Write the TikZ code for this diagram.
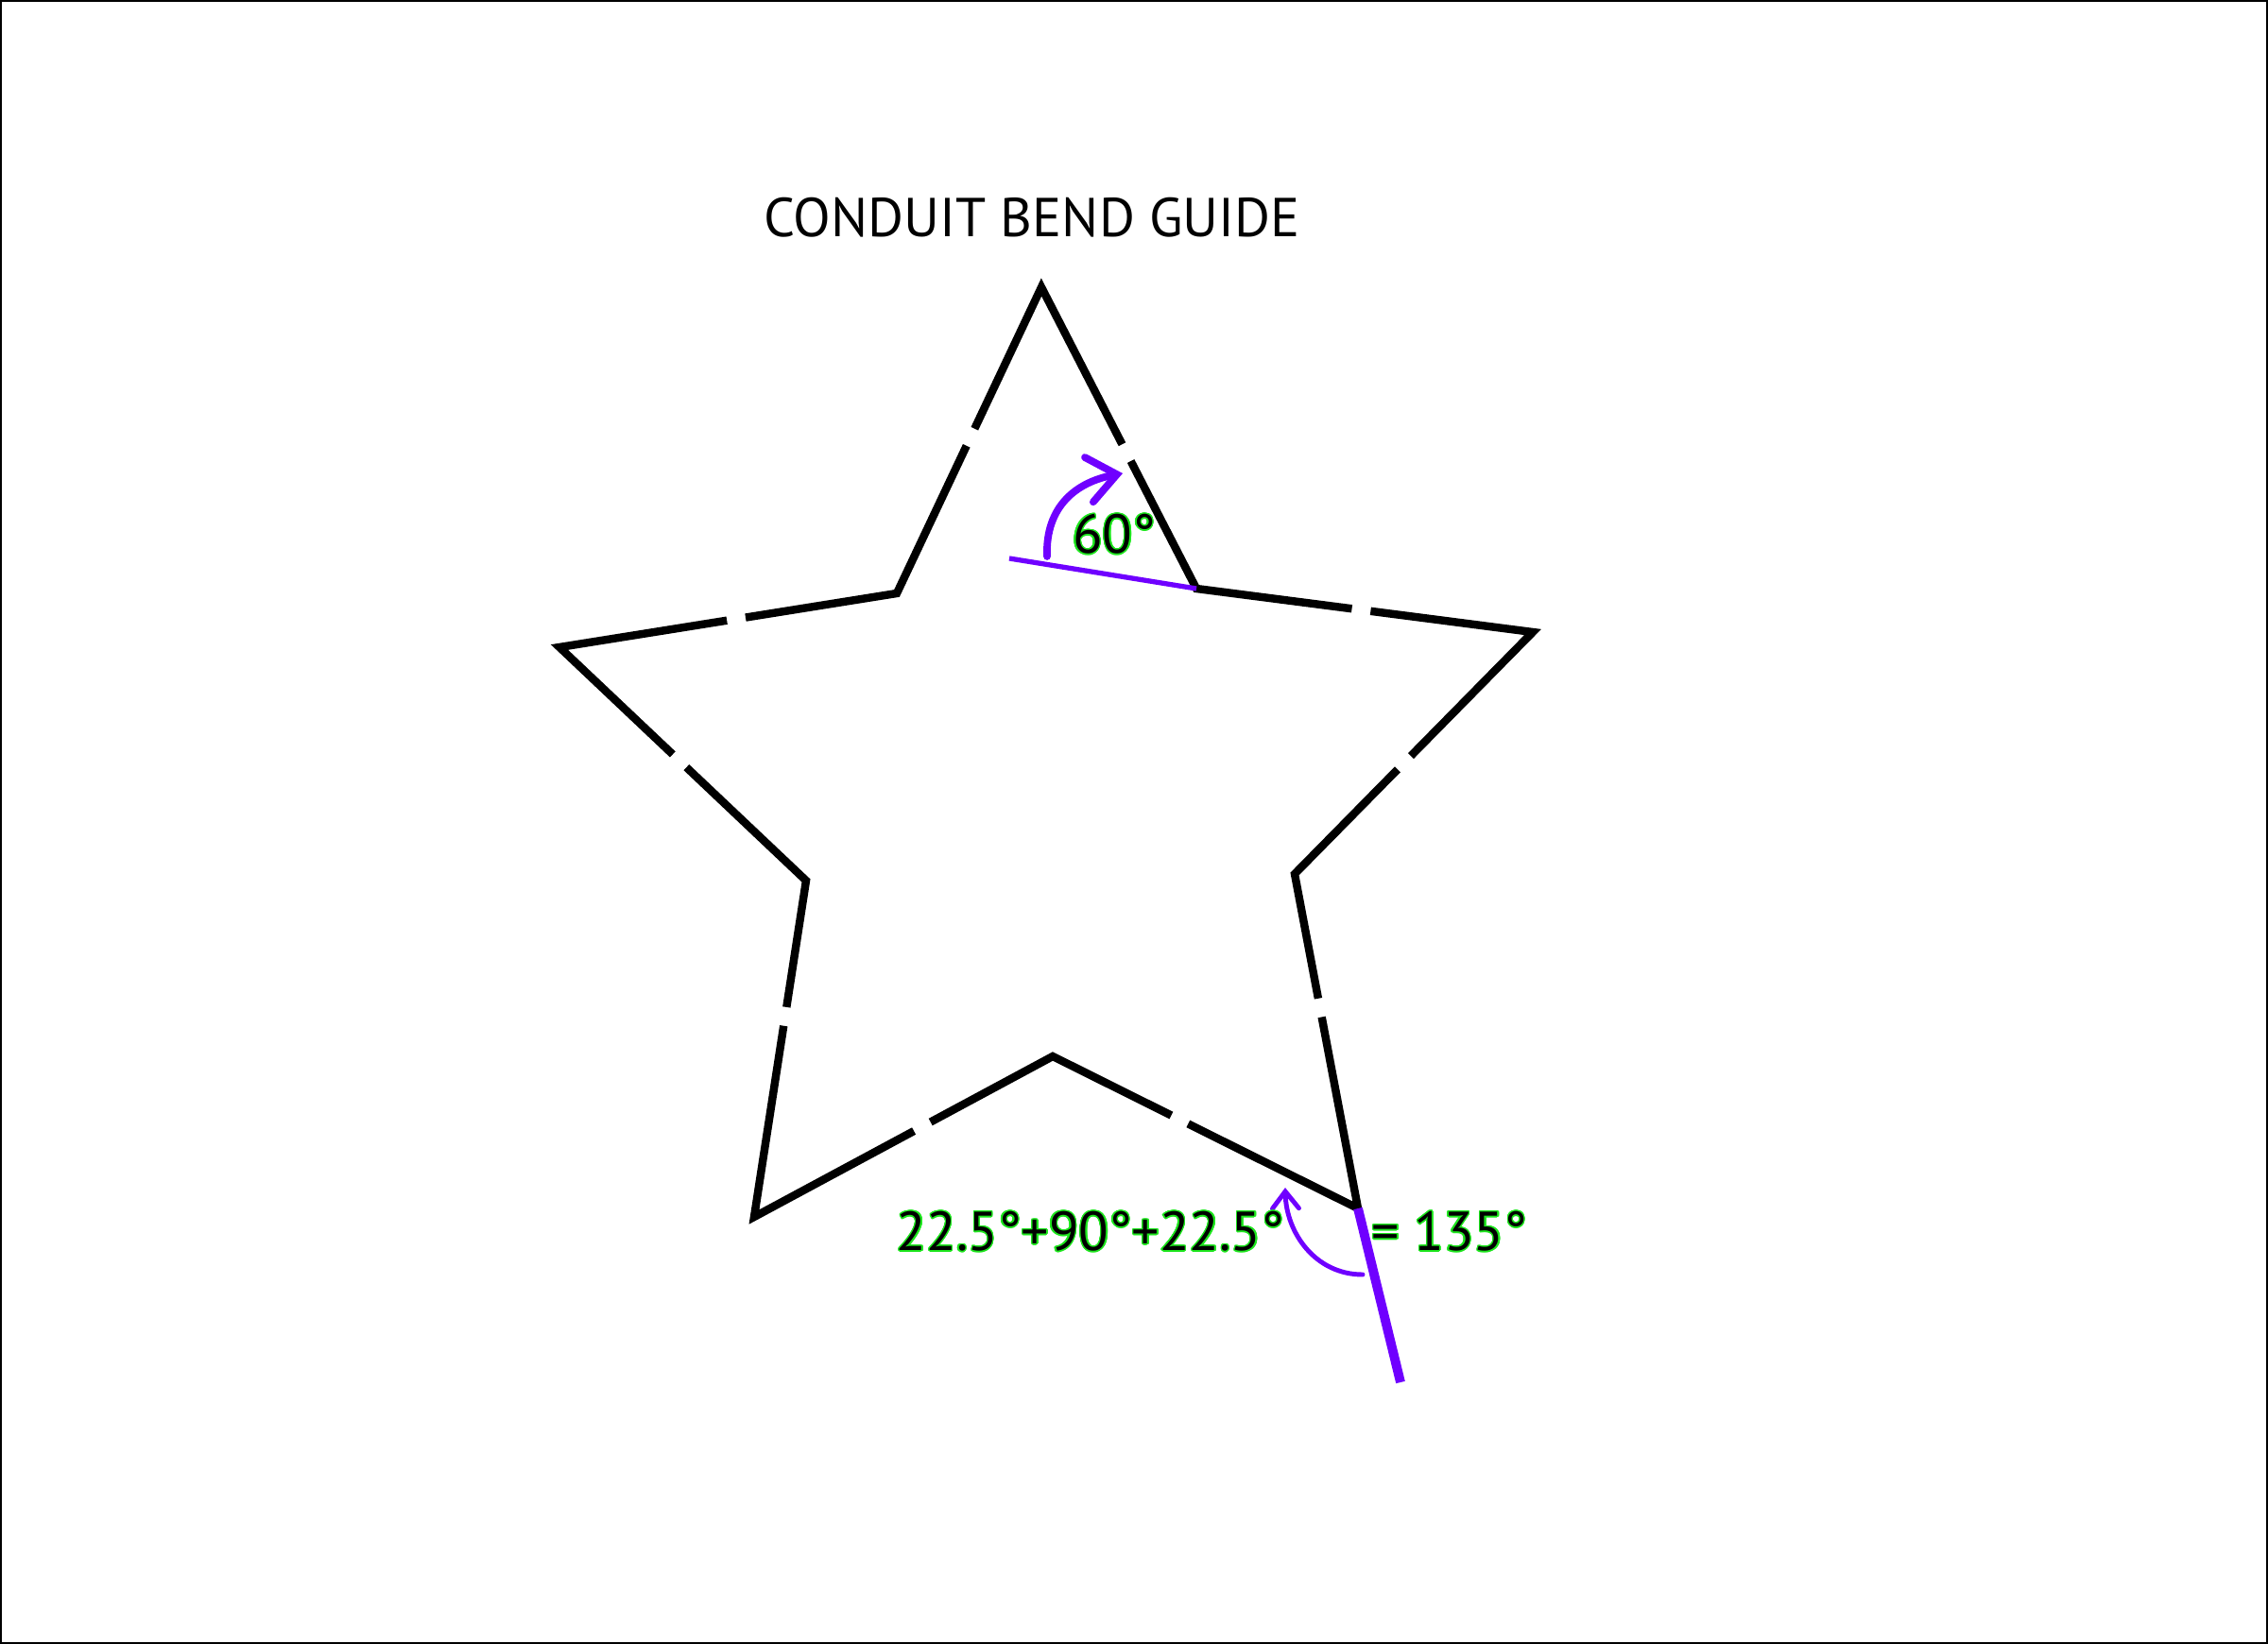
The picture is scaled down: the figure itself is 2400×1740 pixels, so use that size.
\documentclass[tikz,border=0pt]{standalone}
\usepackage{fontspec}
\setmainfont{PT Sans}
\usepackage{contour}
\usetikzlibrary{arrows.meta,calc}
\definecolor{bendviolet}{RGB}{111,0,255}
\definecolor{labelgreen}{RGB}{30,230,30}
\contourlength{0.4pt}
\contournumber{24}
\tikzstyle{starline}=[draw=black, line width=2.4pt, line join=miter]
\tikzstyle{refline}=[draw=bendviolet, line width=1.5pt]
\tikzstyle{bendarc}=[draw=bendviolet, line cap=round]
\tikzstyle{anglelabel}=[inner sep=0pt, font=\fontsize{16.5pt}{19pt}\selectfont]
\newcommand{\glow}[1]{\contour{labelgreen}{#1}}

\begin{document}
\begin{tikzpicture}[x=0.01cm,y=-0.01cm]
  \useasboundingbox (0,0) rectangle (2400,1740);
  \draw[line width=0.6pt] (1,1) rectangle (2399,1739);
  % star points and notches
  \coordinate (pN)  at (1102,304);
  \coordinate (iNE) at (1266,623);
  \coordinate (pE)  at (1622,669);
  \coordinate (iSE) at (1370,925);
  \coordinate (pSE) at (1437,1279);
  \coordinate (iS)  at (1114,1118);
  \coordinate (pSW) at (798,1288);
  \coordinate (iSW) at (853,932);
  \coordinate (pW)  at (592,685);
  \coordinate (iNW) at (949,628);
  % one small break on every edge
  \foreach \v/\w/\t/\k in {pN/iNE/0.549/1, iNE/pE/0.49/2, pE/iSE/0.54/3,
                           iSE/pSE/0.40/4, pSE/iS/0.584/5, iS/pSW/0.437/6,
                           pSW/iSW/0.596/7, iSW/pW/0.513/8, pW/iNW/0.524/9,
                           iNW/pN/0.51/10}{
    \coordinate (g\k) at ($(\v)!\t!(\w)$);
    \coordinate (g\k-in) at ($(g\k)!0.1cm!(\v)$);
    \coordinate (g\k-out) at ($(g\k)!0.1cm!(\w)$);
  }
  \foreach \p/\v/\n in {10/pN/1, 1/iNE/2, 2/pE/3, 3/iSE/4, 4/pSE/5,
                        5/iS/6, 6/pSW/7, 7/iSW/8, 8/pW/9, 9/iNW/10}
    \draw[starline] (g\p-out) -- (\v) -- (g\n-in);

  \node[anglelabel] (title) at (1092,230) {CONDUIT BEND GUIDE};

  % 60 degree mark
  \coordinate (refW) at (1068,591);
  \draw[refline] (refW) -- (iNE);
  \coordinate (arcA0) at (1108,589);
  \coordinate (arcA1) at (1188,501);
  \draw[bendarc, line width=2.2pt, -{Straight Barb[length=0.3cm,width=0.48cm,line cap=round]}]
    (arcA0) .. controls (1106,535) and (1140,510) .. (arcA1);
  \node[anglelabel] (sixty) at (1179,566) {\glow{60°}};

  % 135 degree mark
  \coordinate (extS) at (1482,1463);
  \draw[refline, line width=2.8pt] (pSE) -- (extS);
  \coordinate (arcB0) at (1442,1349);
  \coordinate (arcB1) at (1360,1257);
  \draw[bendarc, line width=1.4pt, -{Straight Barb[length=0.18cm,width=0.28cm,line cap=round]}]
    (arcB0) .. controls (1392,1349) and (1361,1305) .. (arcB1);
  \node[anglelabel] (sum) at (1154,1304) {\glow{22.5°+90°+22.5°}};
  \node[anglelabel] (total) at (1534,1304) {\glow{= 135°}};
\end{tikzpicture}
\end{document}
